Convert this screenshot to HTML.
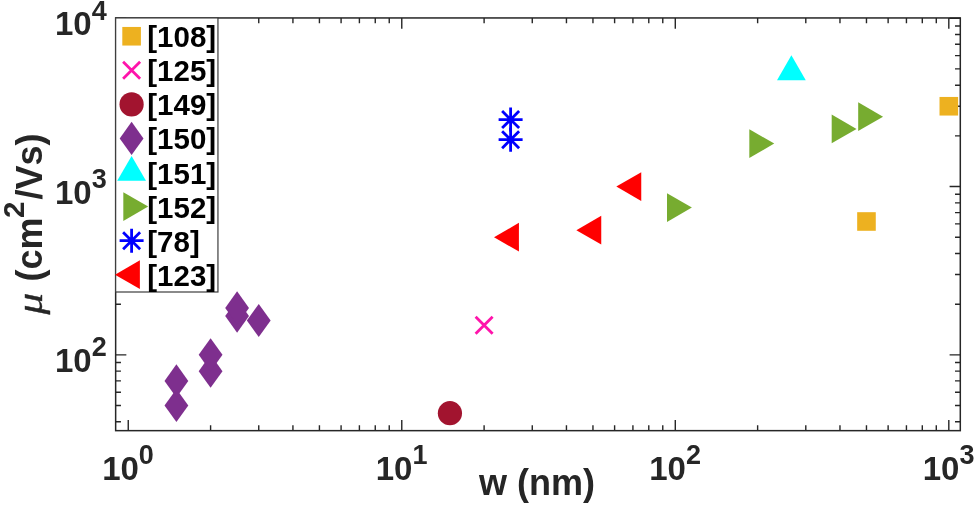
<!DOCTYPE html>
<html lang="en"><head><meta charset="utf-8"><title>mobility vs width</title>
<style>html,body{margin:0;padding:0;background:#fff}svg{display:block}text{font-family:"Liberation Sans",Arial,sans-serif;font-weight:bold}.t{fill:#262626;font-size:33px}.s{fill:#262626;font-size:27px}.l{fill:#262626;font-size:36px}.g{fill:#000;font-size:29.5px}</style></head><body>
<svg width="976" height="506" viewBox="0 0 976 506">
<rect width="976" height="506" fill="#fff"/>
<path d="M128.25 430.65v-10.7M128.25 17.95v10.7M210.59 430.65v-5.3M210.59 17.95v5.3M258.75 430.65v-5.3M258.75 17.95v5.3M292.93 430.65v-5.3M292.93 17.95v5.3M319.43 430.65v-5.3M319.43 17.95v5.3M341.09 430.65v-5.3M341.09 17.95v5.3M359.40 430.65v-5.3M359.40 17.95v5.3M375.26 430.65v-5.3M375.26 17.95v5.3M389.25 430.65v-5.3M389.25 17.95v5.3M401.77 430.65v-10.7M401.77 17.95v10.7M484.11 430.65v-5.3M484.11 17.95v5.3M532.27 430.65v-5.3M532.27 17.95v5.3M566.45 430.65v-5.3M566.45 17.95v5.3M592.95 430.65v-5.3M592.95 17.95v5.3M614.61 430.65v-5.3M614.61 17.95v5.3M632.92 430.65v-5.3M632.92 17.95v5.3M648.78 430.65v-5.3M648.78 17.95v5.3M662.77 430.65v-5.3M662.77 17.95v5.3M675.29 430.65v-10.7M675.29 17.95v10.7M757.63 430.65v-5.3M757.63 17.95v5.3M805.79 430.65v-5.3M805.79 17.95v5.3M839.97 430.65v-5.3M839.97 17.95v5.3M866.47 430.65v-5.3M866.47 17.95v5.3M888.13 430.65v-5.3M888.13 17.95v5.3M906.44 430.65v-5.3M906.44 17.95v5.3M922.30 430.65v-5.3M922.30 17.95v5.3M936.29 430.65v-5.3M936.29 17.95v5.3M948.81 430.65v-10.7M948.81 17.95v10.7M115.65 421.82h5.3M960.3 421.82h-5.3M115.65 405.51h5.3M960.3 405.51h-5.3M115.65 392.19h5.3M960.3 392.19h-5.3M115.65 380.92h5.3M960.3 380.92h-5.3M115.65 371.16h5.3M960.3 371.16h-5.3M115.65 362.55h5.3M960.3 362.55h-5.3M115.65 354.85h10.7M960.3 354.85h-10.7M115.65 304.19h5.3M960.3 304.19h-5.3M115.65 274.55h5.3M960.3 274.55h-5.3M115.65 253.52h5.3M960.3 253.52h-5.3M115.65 237.21h5.3M960.3 237.21h-5.3M115.65 223.89h5.3M960.3 223.89h-5.3M115.65 212.62h5.3M960.3 212.62h-5.3M115.65 202.86h5.3M960.3 202.86h-5.3M115.65 194.25h5.3M960.3 194.25h-5.3M115.65 186.55h10.7M960.3 186.55h-10.7M115.65 135.89h5.3M960.3 135.89h-5.3M115.65 106.25h5.3M960.3 106.25h-5.3M115.65 85.22h5.3M960.3 85.22h-5.3M115.65 68.91h5.3M960.3 68.91h-5.3M115.65 55.59h5.3M960.3 55.59h-5.3M115.65 44.32h5.3M960.3 44.32h-5.3M115.65 34.56h5.3M960.3 34.56h-5.3M115.65 25.95h5.3M960.3 25.95h-5.3M115.65 18.25h10.7M960.3 18.25h-10.7" stroke="#262626" stroke-width="1.4" fill="none"/>
<rect x="939.51" y="96.95" width="18.6" height="18.6" fill="#edb120"/>
<rect x="857.17" y="212.19" width="18.6" height="18.6" fill="#edb120"/>
<path d="M475.61 316.71l17.0 17.0M475.61 333.71l17.0 -17.0" stroke="#ff14ab" stroke-width="2.8" fill="none"/>
<circle cx="449.93" cy="413.21" r="12.1" fill="#a2142f"/>
<path d="M176.41 388.91l11.9 16.6l-11.9 16.6l-11.9 -16.6z" fill="#7e2f8e"/>
<path d="M176.41 364.32l11.9 16.6l-11.9 16.6l-11.9 -16.6z" fill="#7e2f8e"/>
<path d="M210.59 354.56l11.9 16.6l-11.9 16.6l-11.9 -16.6z" fill="#7e2f8e"/>
<path d="M210.59 338.25l11.9 16.6l-11.9 16.6l-11.9 -16.6z" fill="#7e2f8e"/>
<path d="M237.09 299.47l11.9 16.6l-11.9 16.6l-11.9 -16.6z" fill="#7e2f8e"/>
<path d="M237.09 291.34l11.9 16.6l-11.9 16.6l-11.9 -16.6z" fill="#7e2f8e"/>
<path d="M258.75 303.90l11.9 16.6l-11.9 16.6l-11.9 -16.6z" fill="#7e2f8e"/>
<polygon points="791.40,55.30 805.78,80.20 777.02,80.20" fill="#00ffff"/>
<polygon points="691.89,207.58 666.99,221.95 666.99,193.20" fill="#77ac30"/>
<polygon points="774.23,143.59 749.33,157.96 749.33,129.21" fill="#77ac30"/>
<polygon points="856.57,128.92 831.67,143.30 831.67,114.54" fill="#77ac30"/>
<polygon points="883.07,116.71 858.17,131.09 858.17,102.33" fill="#77ac30"/>
<path d="M498.61 119.58h24M510.61 107.58v24M502.11 111.08l17.0 17.0M502.11 128.08l17.0 -17.0" stroke="#0000ff" stroke-width="2.8" fill="none"/>
<path d="M498.61 139.64h24M510.61 127.64v24M502.11 131.14l17.0 17.0M502.11 148.14l17.0 -17.0" stroke="#0000ff" stroke-width="2.8" fill="none"/>
<polygon points="494.01,237.21 518.91,222.84 518.91,251.59" fill="#ff0000"/>
<polygon points="576.35,230.25 601.25,215.87 601.25,244.62" fill="#ff0000"/>
<polygon points="616.32,186.55 641.22,172.17 641.22,200.93" fill="#ff0000"/>
<rect x="115.65" y="17.95" width="844.65" height="412.70" fill="none" stroke="#262626" stroke-width="1.5"/>
<rect x="115.65" y="17.95" width="102.30" height="274.05" fill="#fff" stroke="#3c3c3c" stroke-width="1.2"/>
<rect x="122.30" y="26.95" width="18.6" height="18.6" fill="#edb120"/>
<text class="g" x="147.3" y="47.25">[108]</text>
<path d="M123.10 61.82l17.0 17.0M123.10 78.82l17.0 -17.0" stroke="#ff14ab" stroke-width="2.8" fill="none"/>
<text class="g" x="147.3" y="81.32">[125]</text>
<circle cx="131.60" cy="104.39" r="12.1" fill="#a2142f"/>
<text class="g" x="147.3" y="115.39">[149]</text>
<path d="M131.60 121.86l11.9 16.6l-11.9 16.6l-11.9 -16.6z" fill="#7e2f8e"/>
<text class="g" x="147.3" y="149.46">[150]</text>
<polygon points="131.60,155.93 145.98,180.83 117.22,180.83" fill="#00ffff"/>
<text class="g" x="147.3" y="183.53">[151]</text>
<polygon points="148.20,206.60 123.30,220.98 123.30,192.22" fill="#77ac30"/>
<text class="g" x="147.3" y="217.60">[152]</text>
<path d="M119.60 240.67h24M131.60 228.67v24M123.10 232.17l17.0 17.0M123.10 249.17l17.0 -17.0" stroke="#0000ff" stroke-width="2.8" fill="none"/>
<text class="g" x="147.3" y="251.67">[78]</text>
<polygon points="115.00,274.74 139.90,260.36 139.90,289.12" fill="#ff0000"/>
<text class="g" x="147.3" y="285.74">[123]</text>
<text class="t" x="102.15" y="479.6">10<tspan class="s" dy="-15.5">0</tspan></text>
<text class="t" x="375.67" y="479.6">10<tspan class="s" dy="-15.5">1</tspan></text>
<text class="t" x="649.19" y="479.6">10<tspan class="s" dy="-15.5">2</tspan></text>
<text class="t" x="922.71" y="479.6">10<tspan class="s" dy="-15.5">3</tspan></text>
<text class="t" x="55" y="371.80">10<tspan class="s" dy="-15.5">2</tspan></text>
<text class="t" x="55" y="203.50">10<tspan class="s" dy="-15.5">3</tspan></text>
<text class="t" x="55" y="35.20">10<tspan class="s" dy="-15.5">4</tspan></text>
<text class="l" x="537.0" y="494.6" text-anchor="middle">w (nm)</text>
<g transform="translate(42.0,0) rotate(-90)">
<text transform="translate(-314.4,0) scale(1.2,1)" x="0" y="0" style="font-family:'Liberation Serif',serif;font-style:italic;font-weight:normal;font-size:36px;fill:#262626;stroke:#262626;stroke-width:0.4">μ</text>
<text class="l" x="-281.5" y="0">(cm</text>
<text class="l" x="-218.0" y="-18" style="font-size:29.5px">2</text>
<text class="l" x="-199.5" y="0">/Vs)</text>
</g>
</svg></body></html>
